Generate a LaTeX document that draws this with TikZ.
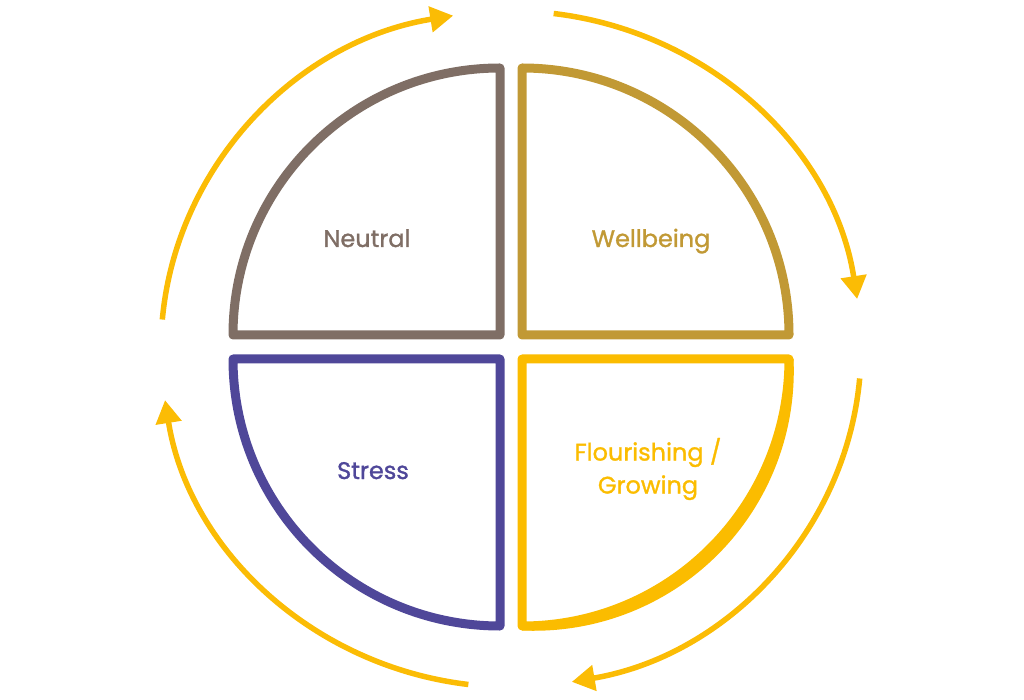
\documentclass[tikz,border=0pt]{standalone}
\usepackage{fontspec}
\setmainfont{Poppins}[FakeBold=1.2]
\usetikzlibrary{arrows.meta}
\definecolor{neutralc}{HTML}{7F6E65}
\definecolor{wellc}{HTML}{C19935}
\definecolor{stressc}{HTML}{4F4799}
\definecolor{flourc}{HTML}{FBBC00}
\definecolor{arrowc}{HTML}{FBBC05}
\tikzset{
  quad/.style={line width=9pt, line join=round, line cap=round},
  lab/.style={font=\fontsize{24}{33}\selectfont, align=center, inner sep=0pt},
  cyc/.style={arrowc, line width=5.5pt, -{Triangle[length=23pt, width=25pt]}}
}
\begin{document}
\begin{tikzpicture}[x=1pt, y=1pt]
\useasboundingbox (0,0) rectangle (1024,699);
\coordinate (c) at (511,350);
\coordinate (nc) at (500,364);
\coordinate (wc) at (522,364);
\coordinate (sc) at (500,340);
\coordinate (fc) at (522,340);
% quadrants
\draw[quad, neutralc] (nc) -- ++(0,267) arc[start angle=90, end angle=180, radius=267] -- cycle;
\draw[quad, wellc] (wc) -- ++(0,267) arc[start angle=90, end angle=0, radius=267] -- cycle;
\draw[quad, stressc] (sc) -- ++(0,-267) arc[start angle=-90, end angle=-180, radius=267] -- cycle;
\draw[quad, flourc] (fc) -- ++(0,-267) arc[start angle=-90, end angle=0, radius=267] -- cycle;
\fill[flourc] (fc) ++(271.5,0) arc[start angle=2.648, end angle=-92.648, radius=259.777]
  -- ([shift={(0,-266)}]fc) arc[start angle=-90, end angle=0, radius=266] -- cycle;
% labels
\node[lab, neutralc, anchor=base] (nl) at (367,452) {Neutral};
\node[lab, wellc, anchor=base] (wl) at (651,452) {Wellbeing};
\node[lab, stressc, anchor=base] (sl) at (373,220) {Stress};
\node[lab, flourc] (fl) at (648,230) {Flourishing /\\Growing};
% cycle arrows
\draw[cyc] (c) ++(175:350 and 338) arc[start angle=175, end angle=99.5, x radius=350, y radius=338];
\draw[cyc] (c) ++(83:350 and 338) arc[start angle=83, end angle=8.5, x radius=350, y radius=338];
\draw[cyc] (c) ++(-5:350 and 338) arc[start angle=-5, end angle=-80, x radius=350, y radius=338];
\draw[cyc] (c) ++(-97:350 and 338) arc[start angle=-97, end angle=-171.3, x radius=350, y radius=338];
\end{tikzpicture}
\end{document}
